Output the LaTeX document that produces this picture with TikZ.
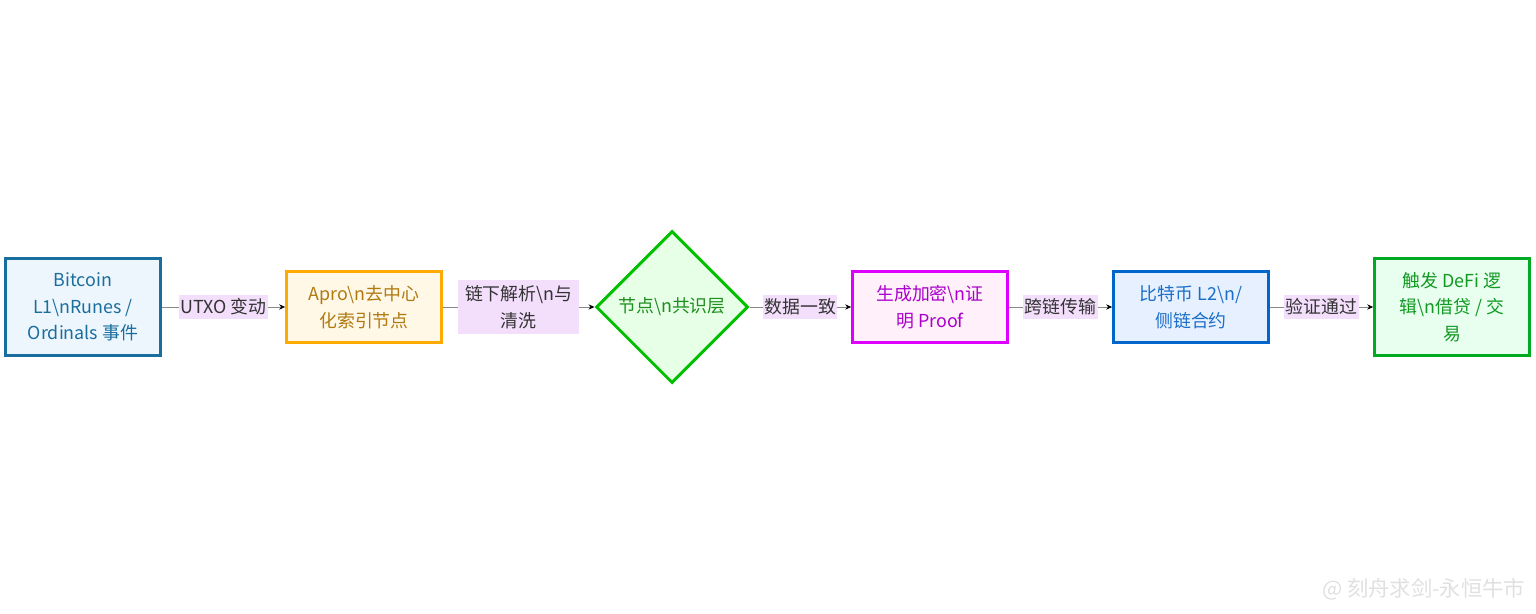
\documentclass[tikz,border=0pt]{standalone}
\usepackage{fontspec}
\setmainfont{Noto Sans CJK SC}
\usetikzlibrary{shapes.geometric,arrows.meta}
\definecolor{b1d}{HTML}{1A6E9E}\definecolor{b1f}{HTML}{EEF6FD}
\definecolor{b2d}{HTML}{FFAA00}\definecolor{b2f}{HTML}{FFF8E7}\definecolor{b2t}{HTML}{B07A10}
\definecolor{b3d}{HTML}{00C000}\definecolor{b3f}{HTML}{E6FFE6}\definecolor{b3t}{HTML}{1E8E1E}
\definecolor{b4d}{HTML}{DD00FF}\definecolor{b4f}{HTML}{FFF0FA}\definecolor{b4t}{HTML}{AA00CC}
\definecolor{b5d}{HTML}{0066CC}\definecolor{b5f}{HTML}{E6F0FF}\definecolor{b5t}{HTML}{1A6EC8}
\definecolor{b6d}{HTML}{00AA22}\definecolor{b6f}{HTML}{E8FFF0}\definecolor{b6t}{HTML}{119922}
\definecolor{lblf}{HTML}{F3DEFC}\definecolor{lblt}{HTML}{333333}
\definecolor{edgec}{HTML}{888888}
\begin{document}
\begin{tikzpicture}[x=0.75pt,y=-0.75pt,
  every node/.style={font=\fontsize{13.4}{20}\selectfont},
  box/.style={draw, line width=2.25pt, align=center, inner sep=0pt, minimum width=116pt},
  tall/.style={box, minimum height=73pt},
  short/.style={box, minimum height=53.5pt},
  lbl/.style={fill=lblf, text=lblt, align=center, inner xsep=1pt, inner ysep=2.5pt},
  conn/.style={draw=edgec, line width=0.75pt, -{Stealth[length=4.5pt,width=4pt,color=black]}}]
\useasboundingbox (0,0) rectangle (1536,614);
\node[tall, draw=b1d, fill=b1f, text=b1d] (n1) at (83,307) {Bitcoin\\L1\textbackslash nRunes /\\Ordinals 事件};
\node[short, draw=b2d, fill=b2f, text=b2t] (n2) at (364,307) {Apro\textbackslash n去中心\\化索引节点};
\node[diamond, draw=b3d, fill=b3f, text=b3t, line width=2.25pt, minimum width=114pt, minimum height=114pt, inner sep=0pt] (n3) at (672,307) {节点\textbackslash n共识层};
\node[short, draw=b4d, fill=b4f, text=b4t] (n4) at (930,307) {生成加密\textbackslash n证\\明 Proof};
\node[short, draw=b5d, fill=b5f, text=b5t] (n5) at (1191,307) {比特币 L2\textbackslash n/\\侧链合约};
\node[tall, draw=b6d, fill=b6f, text=b6t] (n6) at (1452,307) {触发 DeFi 逻\\辑\textbackslash n借贷 / 交\\易};
\draw[conn] (n1) -- node[lbl]{UTXO 变动} (n2);
\draw[conn] (n2) -- node[lbl, minimum width=91pt, minimum height=40pt]{链下解析\textbackslash n与\\清洗} (n3);
\draw[conn] (n3) -- node[lbl]{数据一致} (n4);
\draw[conn] (n4) -- node[lbl]{跨链传输} (n5);
\draw[conn] (n5) -- node[lbl]{验证通过} (n6);
\node[text=black!12, font=\fontsize{16}{18}\selectfont, anchor=east] (wm) at (1530,589) {@ 刻舟求剑-永恒牛市};
\end{tikzpicture}
\end{document}
